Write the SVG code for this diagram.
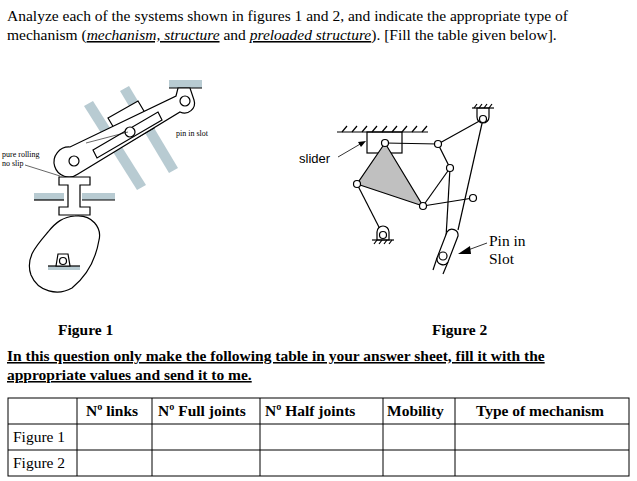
<svg xmlns="http://www.w3.org/2000/svg" width="637" height="481" viewBox="0 0 637 481">
<style>
.t{font-family:"Liberation Serif",serif;font-size:15.5px;fill:#000}
.b{font-weight:bold}
.s{font-family:"Liberation Serif",serif;font-size:8px}
.ln{stroke:#000;stroke-width:1.2;fill:none}
.k{stroke:#000;stroke-width:1.2;fill:#fff}
.g{fill:#b8cbd2}
.tb{stroke:#000;stroke-width:1;fill:none}
</style>
<rect width="637" height="481" fill="#fff"/>
<text class="t" x="7" y="21">Analyze each of the systems shown in figures 1 and 2, and indicate the appropriate type of</text>
<text class="t" x="7" y="40">mechanism (<tspan text-decoration="underline" font-style="italic">mechanism, structure</tspan> and <tspan text-decoration="underline" font-style="italic">preloaded structure</tspan>). [Fill the table given below].</text>

<g id="figure1">
<rect class="g" x="169" y="80" width="33" height="8"/>
<line class="ln" x1="169" y1="88" x2="202" y2="88"/>
<polygon class="g" points="84,106 93,101 146,185 137,190"/>
<polygon class="g" points="120,91 129,86 178,168 169,173"/>
<polygon class="k" points="108,118 138,101 154,128 124,145"/>
<path class="k" d="M178,88 L190,88 L194,100 A10,10 0 0 1 180,112 L78,174 A15,15 0 1 1 70,147 L176,96 Z"/>
<polygon class="ln" points="93,150 158,112 162,120 97,158"/>
<circle class="k" cx="185" cy="101" r="5"/>
<circle class="k" cx="130" cy="132" r="5"/>
<circle class="k" cx="74" cy="161" r="5"/>
<line x1="86" y1="143" x2="128" y2="132" stroke="#000" stroke-width="0.6"/>
<rect class="g" x="34" y="193" width="30" height="7"/>
<rect class="g" x="82" y="193" width="33" height="7"/>
<line class="ln" x1="34" y1="200" x2="64" y2="200"/>
<line class="ln" x1="82" y1="200" x2="115" y2="200"/>
<polygon class="k" points="59,177 90,177 90,185 80,185 80,207 90,207 90,215 59,215 59,207 68,207 68,185 59,185"/>
<path class="k" d="M75,216 C92,214 102,228 99,240 C96,258 88,275 72,288 C58,296 38,292 31,275 C25,258 36,246 48,232 C56,222 63,217 75,216 Z"/>
<rect class="g" x="48" y="266" width="32" height="4"/>
<line class="ln" x1="48" y1="266" x2="80" y2="266"/>
<polygon class="k" points="56,266 58,254 68,254 70,266"/>
<circle class="k" cx="63" cy="261" r="3.5"/>
<line x1="25" y1="165" x2="60" y2="176" stroke="#000" stroke-width="0.6"/>
<text class="s" x="2" y="157">pure rolling</text>
<text class="s" x="2" y="166">no slip</text>
<text class="s" x="176" y="136">pin in slot</text>
</g>

<g id="figure2">
<line class="ln" x1="337" y1="132" x2="428" y2="132"/>
<path class="ln" stroke-width="0.8" d="M342,132l5,-6M352,132l5,-6M362,132l5,-6M372,132l5,-6M382,132l5,-6M392,132l5,-6M402,132l5,-6M412,132l5,-6M422,132l5,-6"/>
<rect class="ln" x="367" y="132" width="35" height="21"/>
<polygon points="385,143 357,184 423,206" fill="#c0c0c0" stroke="#000" stroke-width="1.2"/>
<line class="ln" x1="385" y1="143" x2="438" y2="144"/>
<line class="ln" x1="438" y1="144" x2="483" y2="119"/>
<line class="ln" x1="438" y1="144" x2="450" y2="168"/>
<line class="ln" x1="450" y1="168" x2="423" y2="206"/>
<line class="ln" x1="423" y1="206" x2="473" y2="198"/>
<line class="ln" x1="483" y1="119" x2="458" y2="230"/>
<line class="ln" x1="450" y1="168" x2="445" y2="255"/>
<line class="ln" x1="357" y1="184" x2="383" y2="235"/>
<path class="k" d="M447,232 A6,6 0 0 1 458,236 L448,262 A6,6 0 0 1 437,258 Z"/>
<line class="ln" x1="437" y1="258" x2="433" y2="270"/>
<line class="ln" x1="448" y1="262" x2="443" y2="274"/>
<circle class="k" cx="443" cy="256" r="4"/>
<path class="k" d="M377,240 L377,232 A6,6 0 0 1 389,232 L389,240 Z"/>
<line class="ln" x1="372" y1="240" x2="394" y2="240"/>
<path class="ln" stroke-width="0.8" d="M374,244l3,-4M379,244l3,-4M384,244l3,-4M389,244l3,-4"/>
<path class="k" d="M477,108 L477,117 A6,6 0 0 0 489,117 L489,108 Z"/>
<line class="ln" x1="472" y1="108" x2="494" y2="108"/>
<path class="ln" stroke-width="0.8" d="M474,108l3,-4M479,108l3,-4M484,108l3,-4M489,108l3,-4"/>
<g fill="#fff" stroke="#000" stroke-width="1.2">
<circle cx="385" cy="143" r="3.5"/><circle cx="438" cy="144" r="3.5"/><circle cx="483" cy="119" r="3.5"/>
<circle cx="450" cy="168" r="3.5"/><circle cx="357" cy="184" r="3.5"/><circle cx="423" cy="206" r="3.5"/>
<circle cx="473" cy="198" r="3.5"/><circle cx="383" cy="235" r="3.5"/>
</g>
<line x1="338" y1="157" x2="362" y2="143" stroke="#000" stroke-width="0.8"/>
<polygon points="366,141 358,142 361,147"/>
<line x1="487" y1="243" x2="468" y2="250" stroke="#000" stroke-width="0.8"/>
<polygon points="458,254 470,246 471,254"/>
<text x="299" y="163" font-family="Liberation Sans,sans-serif" font-size="13">slider</text>
<text class="t" x="489" y="246">Pin in</text>
<text class="t" x="489" y="264">Slot</text>
</g>

<text class="t b" x="58" y="335">Figure 1</text>
<text class="t b" x="432" y="335">Figure 2</text>
<text class="t b" x="7" y="361" text-decoration="underline">In this question only make the following table in your answer sheet, fill it with the</text>
<text class="t b" x="7" y="380" text-decoration="underline">appropriate values and send it to me.</text>

<g id="table">
<rect class="tb" x="8" y="398" width="621" height="78"/>
<line class="tb" x1="8" y1="424" x2="629" y2="424"/>
<line class="tb" x1="8" y1="450" x2="629" y2="450"/>
<path class="tb" d="M77,398V476M152,398V476M260,398V476M383,398V476M455,398V476"/>
<text class="t b" x="86" y="416">Nº links</text>
<text class="t b" x="158" y="416">Nº Full joints</text>
<text class="t b" x="265" y="416">Nº Half joints</text>
<text class="t b" x="387" y="416">Mobility</text>
<text class="t b" x="476" y="416">Type of mechanism</text>
<text class="t" x="13" y="442">Figure 1</text>
<text class="t" x="13" y="468">Figure 2</text>
</g>
</svg>
